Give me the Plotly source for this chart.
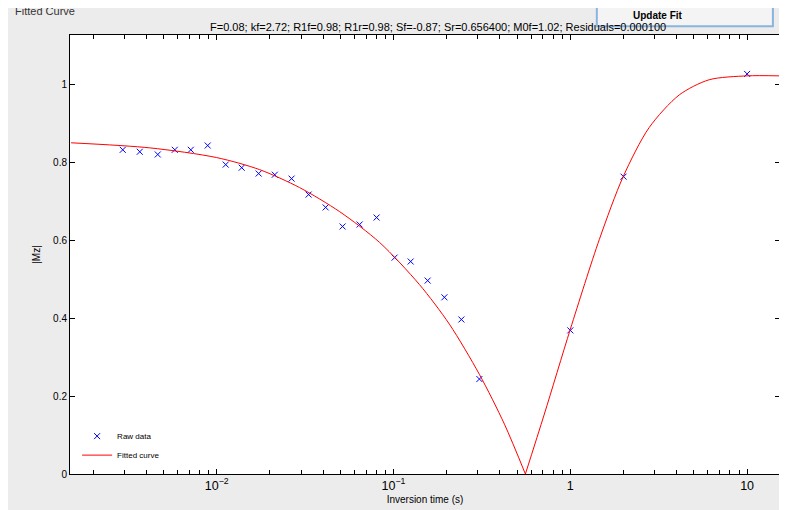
import plotly.graph_objects as go

# raw data
raw_t = [0.00294, 0.00367, 0.00464, 0.00579, 0.00713, 0.00889, 0.01124, 0.01384,
         0.01726, 0.0213, 0.0265, 0.0331, 0.0413, 0.0515, 0.0643, 0.0802, 0.1014,
         0.125, 0.156, 0.194, 0.242, 0.306, 1.0, 2.0, 10.0]
raw_mz = [0.833, 0.828, 0.821, 0.833, 0.833, 0.844, 0.795, 0.787, 0.772, 0.769,
          0.759, 0.718, 0.685, 0.636, 0.641, 0.659, 0.556, 0.546, 0.497, 0.454,
          0.397, 0.244, 0.369, 0.764, 1.028]

# fitted curve (falling and rising branches)
fit_t_a = [0.0015, 0.00418, 0.01, 0.0175, 0.0294, 0.0496, 0.0834, 0.140, 0.207,
           0.306, 0.424, 0.557]
fit_mz_a = [0.851, 0.838, 0.813, 0.782, 0.736, 0.674, 0.595, 0.487, 0.385,
            0.256, 0.128, 0.0]
fit_t_b = [0.557, 0.713, 1.0, 1.46, 1.99, 2.79, 4.13, 6.10, 10.0, 15.3]
fit_mz_b = [0.0, 0.154, 0.372, 0.603, 0.764, 0.890, 0.974, 1.013, 1.023, 1.023]

font = "Liberation Sans Narrow, Liberation Sans, Arial"

fig = go.Figure()
fig.add_trace(go.Scatter(x=raw_t, y=raw_mz, mode="markers", name="Raw data",
                         marker=dict(symbol="x-thin", size=6, color="blue",
                                     line=dict(width=1, color="blue"))))
fig.add_trace(go.Scatter(x=fit_t_a, y=fit_mz_a, mode="lines", name="Fitted curve",
                         legendgroup="fit", line=dict(color="red", width=1,
                                                      shape="spline", smoothing=0.8)))
fig.add_trace(go.Scatter(x=fit_t_b, y=fit_mz_b, mode="lines", name="Fitted curve",
                         legendgroup="fit", showlegend=False,
                         line=dict(color="red", width=1, shape="spline", smoothing=0.8)))

axis = dict(showline=True, linecolor="black", mirror="allticks", ticks="inside",
            showgrid=False, zeroline=False, tickcolor="black",
            tickfont=dict(size=10, color="black"))
fig.update_xaxes(type="log", range=[-2.83, 1.186], dtick=1, exponentformat="power",
                 title=dict(text="Inversion time (s)", font=dict(size=10), standoff=4),
                 minor=dict(ticks="inside", ticklen=4, tickcolor="black", dtick="D1"),
                 **axis)
fig.update_yaxes(range=[0, 1.128], tickvals=[0, 0.2, 0.4, 0.6, 0.8, 1],
                 ticktext=["0", "0.2", "0.4", "0.6", "0.8", "1"],
                 title=dict(text="|Mz|", font=dict(size=10), standoff=10), **axis)

fig.update_layout(
    width=779, height=502,
    margin=dict(l=62, r=6, t=27, b=27),
    paper_bgcolor="#ececec", plot_bgcolor="white",
    font=dict(family=font, size=10, color="black"),
    showlegend=True,
    legend=dict(x=0.01, y=0.01, xanchor="left", yanchor="bottom",
                bgcolor="rgba(0,0,0,0)", font=dict(size=8), tracegroupgap=0),
)
fig.add_annotation(text="Fitted Curve", xref="paper", yref="paper", x=-0.08, y=1.055,
                   xanchor="left", yanchor="middle", showarrow=False,
                   font=dict(size=11, color="#333"))
fig.add_annotation(text="F=0.08; kf=2.72; R1f=0.98; R1r=0.98; Sf=-0.87; Sr=0.656400; M0f=1.02; Residuals=0.000100",
                   xref="paper", yref="paper", x=0.195, y=1.0, yanchor="bottom",
                   xanchor="left", showarrow=False, font=dict(size=11))
fig.add_shape(type="rect", xref="paper", yref="paper", x0=0.742, x1=0.99,
              y0=1.02, y1=1.07, fillcolor="#f4f4f4", line=dict(color="#8ab4e0", width=2))
fig.add_annotation(text="<b>Update Fit</b>", xref="paper", yref="paper", x=0.866, y=1.045,
                   yanchor="middle", showarrow=False, font=dict(size=10))

fig.write_html("out.html")
